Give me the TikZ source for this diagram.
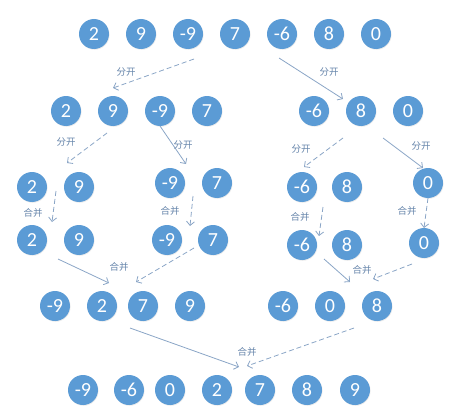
\documentclass[tikz,border=0pt]{standalone}
\usepackage{fontspec}
\setmainfont{Carlito}
\newfontfamily\cjk{Noto Sans CJK SC}
\usetikzlibrary{arrows.meta,shadows}
\definecolor{ballblue}{HTML}{5B9BD5}
\definecolor{linkblue}{HTML}{8AA5C6}
\definecolor{tagblue}{HTML}{6584AA}

\begin{document}
\begin{tikzpicture}[x=1pt,y=-1pt]
        \useasboundingbox (0,0) rectangle (474,420);

        \begin{scope}[every node/.style={circle, fill=ballblue, text=white, minimum size=30pt, inner sep=0pt,
            font=\fontsize{20}{20}\selectfont, drop shadow={opacity=0.15, shadow xshift=0.6pt, shadow yshift=-0.8pt}}]
          % row 1
          \node (a1) at (94,34)  {2};
          \node (a2) at (141,34) {9};
          \node (a3) at (188,34) {-9};
          \node (a4) at (235,34) {7};
          \node (a5) at (282,34) {-6};
          \node (a6) at (329,34) {8};
          \node (a7) at (376,34) {0};
          % row 2
          \node (b1) at (66,111)  {2};
          \node (b2) at (113,111) {9};
          \node (b3) at (160,111) {-9};
          \node (b4) at (207,111) {7};
          \node (b5) at (314,111) {-6};
          \node (b6) at (361,111) {8};
          \node (b7) at (408,111) {0};
          % row 3
          \node (c1) at (32,187)  {2};
          \node (c2) at (79,187)  {9};
          \node (c3) at (170,183) {-9};
          \node (c4) at (217,183) {7};
          \node (c5) at (302,187) {-6};
          \node (c6) at (347,187) {8};
          \node (c7) at (428,183) {0};
          % row 4
          \node (d1) at (32,240)  {2};
          \node (d2) at (79,240)  {9};
          \node (d3) at (167,240) {-9};
          \node (d4) at (213,240) {7};
          \node (d5) at (302,245) {-6};
          \node (d6) at (347,245) {8};
          \node (d7) at (424,243) {0};
          % row 5
          \node (e1) at (55,306)  {-9};
          \node (e2) at (102,306) {2};
          \node (e3) at (143,306) {7};
          \node (e4) at (190,306) {9};
          \node (e5) at (283,306) {-6};
          \node (e6) at (330,306) {0};
          \node (e7) at (377,306) {8};
          % row 6
          \node (f1) at (83,390)  {-9};
          \node (f2) at (129,390) {-6};
          \node (f3) at (170,390) {0};
          \node (f4) at (217,390) {2};
          \node (f5) at (260,390) {7};
          \node (f6) at (307,390) {8};
          \node (f7) at (355,390) {9};
        \end{scope}

        % arrow ends
        \coordinate (s1)  at (194,59);  \coordinate (t1)  at (113,88);
        \coordinate (s2)  at (279,58);  \coordinate (t2)  at (343,99);
        \coordinate (s3)  at (107,133); \coordinate (t3)  at (67,163);
        \coordinate (s4)  at (160,126); \coordinate (t4)  at (186,164);
        \coordinate (s5)  at (343,138); \coordinate (t5)  at (304,167);
        \coordinate (s6)  at (383,138); \coordinate (t6)  at (423,168);
        \coordinate (s7)  at (56,191);  \coordinate (t7)  at (52,222);
        \coordinate (s8)  at (193,196); \coordinate (t8)  at (190,226);
        \coordinate (s9)  at (323,207); \coordinate (t9)  at (319,236);
        \coordinate (s10) at (428,198); \coordinate (t10) at (424,228);
        \coordinate (s11) at (58,259);  \coordinate (t11) at (109,283);
        \coordinate (s12) at (194,248); \coordinate (t12) at (136,282);
        \coordinate (s13) at (324,259); \coordinate (t13) at (350,282);
        \coordinate (s14) at (412,264); \coordinate (t14) at (373,279);
        \coordinate (s15) at (130,328); \coordinate (t15) at (239,367);
        \coordinate (s16) at (354,328); \coordinate (t16) at (247,366);

        \begin{scope}[every edge/.style={draw, linkblue, line width=0.8pt, -{Straight Barb[length=4pt,width=8pt]}},
            split/.style={dash pattern=on 5pt off 3pt}]
          \path (s1)  edge[split] (t1);
          \path (s2)  edge (t2);
          \path (s3)  edge[split] (t3);
          \path (s4)  edge (t4);
          \path (s5)  edge[split] (t5);
          \path (s6)  edge (t6);
          \path (s7)  edge[split] (t7);
          \path (s8)  edge[split] (t8);
          \path (s9)  edge[split] (t9);
          \path (s10) edge[split] (t10);
          \path (s11) edge (t11);
          \path (s12) edge[split] (t12);
          \path (s13) edge (t13);
          \path (s14) edge[split] (t14);
          \path (s15) edge (t15);
          \path (s16) edge[split] (t16);
        \end{scope}

        \begin{scope}[every node/.style={text=tagblue, font=\cjk\fontsize{9.5}{9.5}\selectfont, inner sep=1pt}]
          \node (l1)  at (126,72)  {分开};
          \node (l2)  at (329,72)  {分开};
          \node (l3)  at (66,142)  {分开};
          \node (l4)  at (183,145) {分开};
          \node (l5)  at (301,149) {分开};
          \node (l6)  at (421,146) {分开};
          \node (l7)  at (33,213)  {合并};
          \node (l8)  at (170,211) {合并};
          \node (l9)  at (300,217) {合并};
          \node (l10) at (407,211) {合并};
          \node (l11) at (119,267) {合并};
          \node (l12) at (362,270) {合并};
          \node (l13) at (247,352) {合并};
        \end{scope}

      \end{tikzpicture}
\end{document}
